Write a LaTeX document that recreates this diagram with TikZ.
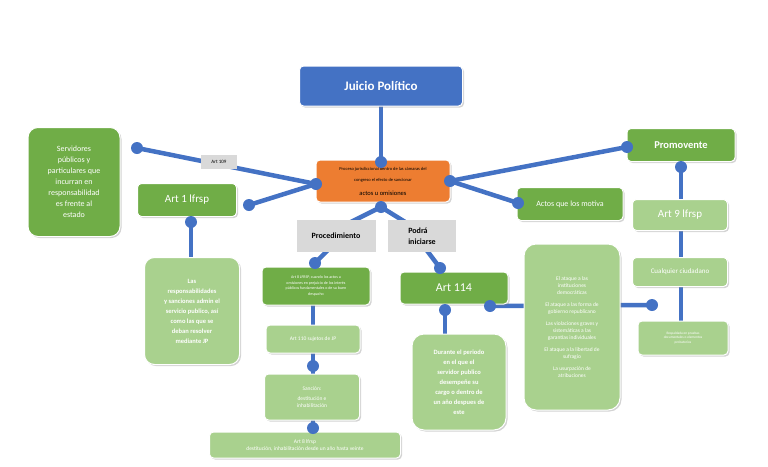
\documentclass[tikz,border=0pt]{standalone}
\usepackage{fontspec}
\setmainfont{Carlito}
\usetikzlibrary{shadows}
\definecolor{cblue}{HTML}{4472C4}
\definecolor{corange}{HTML}{ED7D31}
\definecolor{dgreen}{HTML}{70AD47}
\definecolor{lgreen}{HTML}{A9D18E}
\definecolor{cgray}{HTML}{D9D9D9}
\begin{document}
\begin{tikzpicture}[x=1pt,y=-1pt,
 box/.style={rounded corners=4pt,draw=white,line width=1pt,drop shadow={opacity=0.35,shadow xshift=1.5pt,shadow yshift=-1.5pt},text=white,align=center,inner sep=2pt},
 dk/.style={box,fill=dgreen},
 lt/.style={box,fill=lgreen},
 gr/.style={fill=cgray,align=left,inner sep=2pt},
 ln/.style={cblue,line width=4.5pt},
 dot/.style={circle,fill=cblue,inner sep=0pt,minimum size=12pt}]
\useasboundingbox (0,0) rectangle (768,466);
% coordinates for connector ends
\coordinate (jb) at (381,104);
\coordinate (ot) at (381,162);
\coordinate (ol) at (316,184);
\coordinate (or) at (450,181);
\coordinate (ob) at (381,207);
\coordinate (sv) at (137,148);
\coordinate (a1r) at (249,205);
\coordinate (pl) at (627,147);
\coordinate (al) at (518,203);
\coordinate (pb) at (681,167);
\coordinate (a1b) at (191,222);
\coordinate (a8t) at (315,263);
\coordinate (a114t) at (440,268);
\coordinate (a114b) at (445,310);
\coordinate (a114r) at (490,306);
\coordinate (elr) at (652,305);
\coordinate (s1) at (313,366);
\coordinate (s2) at (313,428);
% connectors
\draw[ln] (jb) -- (ot);
\draw[ln] (sv) -- (ol);
\draw[ln] (a1r) -- (ol);
\draw[ln] (or) -- (pl);
\draw[ln] (or) -- (al);
\draw[ln] (pb) -- (681,330);
\draw[ln] (ob) -- (345,225);
\draw[ln] (ob) -- (410,225);
\draw[ln] (330,248) -- (a8t);
\draw[ln] (425,248) -- (a114t);
\draw[ln] (a1b) -- (191,260);
\draw[ln] (313,300) -- (313,432);
\draw[ln] (a114b) -- (445,336);
\draw[ln] (a114r) -- (elr);
% nodes
\node[box,fill=cblue,minimum width=163pt,minimum height=40pt,font=\bfseries\fontsize{13}{15}\selectfont] (jp) at (381,86) {Juicio Político};
\node[box,fill=corange,text=black,minimum width=134pt,minimum height=42pt] (proc) at (383,181) {\fontsize{4.5}{6}\selectfont Proceso jurisdiccional dentro de las cámaras del\\[-1pt]\fontsize{4.5}{6}\selectfont congreso el efecto de sancionar\\[2pt]\fontsize{6.5}{8}\selectfont actos u omisiones};
\node[dk,minimum width=92pt,minimum height=109pt,font=\fontsize{8}{11}\selectfont,rounded corners=10pt] (serv) at (74,182) {Servidores\\públicos y\\particulares que\\incurran en\\responsabilidad\\es frente al\\estado};
\node[gr,font=\fontsize{5}{6}\selectfont,minimum width=36pt,minimum height=14pt,align=center] (a109) at (219,162) {Art 109};
\node[dk,minimum width=99pt,minimum height=33pt,font=\fontsize{11}{13}\selectfont] (a1) at (187,200) {Art 1 lfrsp};
\node[dk,minimum width=108pt,minimum height=33pt,font=\bfseries\fontsize{10.5}{12}\selectfont] (prom) at (681,145) {Promovente};
\node[dk,minimum width=106pt,minimum height=33pt,font=\fontsize{8}{10}\selectfont] (actos) at (570,204) {Actos que los motiva};
\node[lt,minimum width=95pt,minimum height=31pt,font=\fontsize{11}{13}\selectfont] (a9) at (680,215) {Art 9 lfrsp};
\node[lt,minimum width=95pt,minimum height=29pt,font=\fontsize{7}{9}\selectfont] (cual) at (680,272) {Cualquier ciudadano};
\node[lt,minimum width=90pt,minimum height=34pt,font=\fontsize{3.5}{4.5}\selectfont] (resp) at (683,338) {Respaldada en pruebas\\documentales o elementos\\probatorios};
\node[gr,minimum width=79pt,minimum height=32pt,font=\bfseries\fontsize{8}{10}\selectfont] (pr) at (336,236) {Procedimiento};
\node[gr,minimum width=68pt,minimum height=32pt,font=\bfseries\fontsize{8}{11}\selectfont] (pod) at (422,236) {Podrá\\iniciarse};
\node[dk,minimum width=108pt,minimum height=38pt,font=\fontsize{4}{5.5}\selectfont] (a8) at (316,286) {Art 8 LFRSP, cuando los actos u\\omisiones en prejuicio de los interés\\públicos fundamentales o de su buen\\despacho};
\node[dk,minimum width=108pt,minimum height=32pt,font=\fontsize{12}{14}\selectfont] (a114) at (454,288) {Art 114};
\node[lt,minimum width=95pt,minimum height=107pt,font=\bfseries\fontsize{6.5}{10}\selectfont,rounded corners=10pt] (lasr) at (192,311) {Las\\responsabilidades\\y sanciones admin el\\servicio publico, así\\como las que se\\deban resolver\\mediante JP};
\node[lt,minimum width=94pt,minimum height=28pt,font=\fontsize{5.5}{7}\selectfont] (a110) at (313,339) {Art 110 sujetos de JP};
\node[lt,minimum width=95pt,minimum height=46pt,font=\fontsize{5.5}{7}\selectfont] (sanc) at (312,397) {Sanción:\\[3pt]destitución e\\inhabilitación};
\node[lt,minimum width=191pt,minimum height=26pt,font=\fontsize{5.5}{7}\selectfont] (a8b) at (305,445) {Art 8 lfrsp\\destitución, inhabilitación desde un año hasta veinte};
\node[lt,minimum width=94pt,minimum height=96pt,font=\bfseries\fontsize{6.5}{10}\selectfont,rounded corners=12pt] (dur) at (459,382) {Durante el periodo\\en el que el\\servidor publico\\desempeñe su\\cargo o dentro de\\un año despues de\\este};
\node[lt,minimum width=96pt,minimum height=166pt,font=\fontsize{5.5}{7}\selectfont,rounded corners=12pt] (ata) at (572,327) {El ataque a las\\instituciones\\democráticas\\[5pt]El ataque a las forma de\\gobierno republicano\\[5pt]Las violaciones graves y\\sistemáticas a las\\garantías individuales\\[5pt]El ataque a la libertad de\\sufragio\\[5pt]La usurpación de\\atribuciones};
% dots
\foreach \p in {ot,ol,or,ob,sv,a1r,pl,al,pb,a1b,a8t,a114t,a114b,a114r,elr,s1,s2}
  \node[dot] at (\p) {};
\end{tikzpicture}
\end{document}
